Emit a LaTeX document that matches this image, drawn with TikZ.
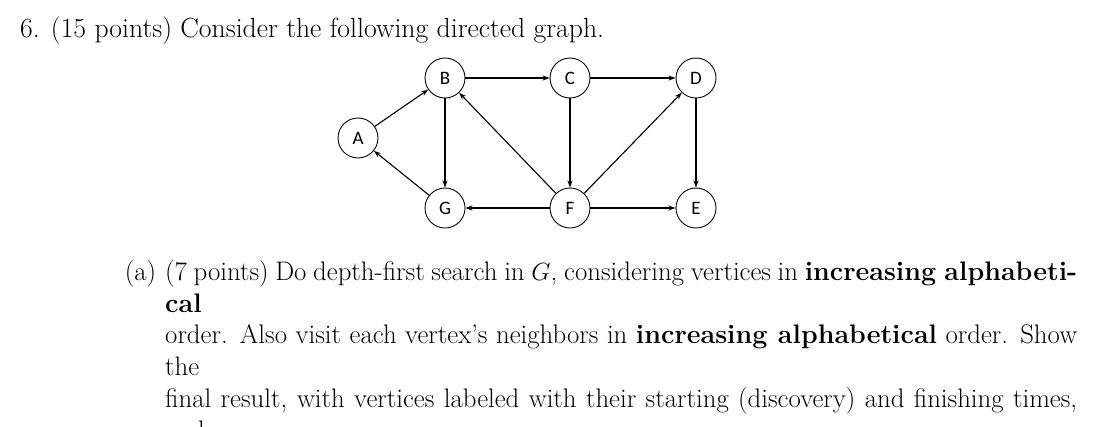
\documentclass[tikz,border=0pt]{standalone}
\usepackage{fontspec}
\newfontfamily\calib{Carlito}
\usetikzlibrary{arrows.meta}
\begin{document}
\begin{tikzpicture}[x=1pt,y=-1pt,
  vtx/.style={circle,draw,line width=0.9pt,minimum size=40pt,inner sep=0pt,font=\calib\fontsize{19}{19}\selectfont},
  edge/.style={-{Stealth[length=7pt,width=5pt]},line width=1.1pt}]
\useasboundingbox (0,0) rectangle (1108,426);
\node[anchor=base west,inner sep=0pt,font=\fontsize{27.7}{33}\selectfont] (title) at (20,37) {6. (15 points) Consider the following directed graph.};
\node[vtx] (A) at (358,138) {A};
\node[vtx] (B) at (445,78) {B};
\node[vtx] (C) at (570,78) {C};
\node[vtx] (D) at (696,78) {D};
\node[vtx] (G) at (445,208) {G};
\node[vtx] (F) at (570,208) {F};
\node[vtx] (E) at (696,208) {E};
\draw[edge] (A) -- (B);
\draw[edge] (G) -- (A);
\draw[edge] (B) -- (C);
\draw[edge] (C) -- (D);
\draw[edge] (B) -- (G);
\draw[edge] (F) -- (B);
\draw[edge] (C) -- (F);
\draw[edge] (F) -- (G);
\draw[edge] (F) -- (E);
\draw[edge] (F) -- (D);
\draw[edge] (D) -- (E);
\node[anchor=north west,inner sep=0pt,text width=912pt,align=justify,font=\fontsize{26.8}{31.8}\selectfont] (pa) at (165,260)
{\hyphenpenalty=10000\makebox[0pt][r]{(a)\hspace{9pt}}(7 points) Do depth-first search in $G$, considering vertices in \textbf{increasing alphabetical}\linebreak order. Also visit each vertex's neighbors in \textbf{increasing alphabetical} order. Show the\linebreak final result, with vertices labeled with their starting (discovery) and finishing times, and\linebreak edges labeled with their type (T/B/F/C); here, T, B, F, C stand for tree, back, forward\linebreak and cross edges, respectively.};
\end{tikzpicture}
\end{document}
